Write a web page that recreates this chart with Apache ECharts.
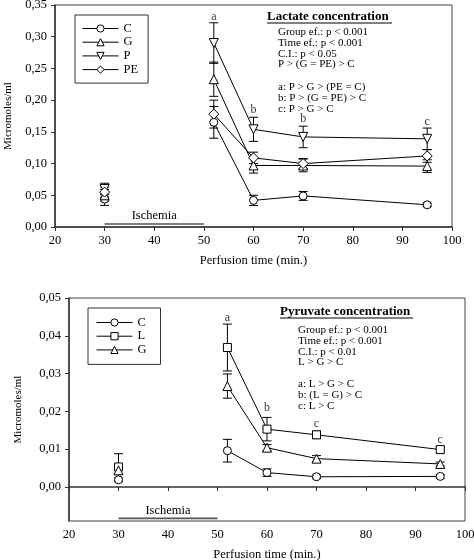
<!DOCTYPE html>
<html>
<head>
<meta charset="utf-8">
<script src="https://cdn.jsdelivr.net/npm/echarts@6/dist/echarts.min.js"></script>
<style>
  html, body { margin: 0; background: #fff; }
  #chart { width: 474px; height: 560px; }
</style>
</head>
<body>
<div id="chart"></div>
<script>
// sampling times (min) - first point is the pre-ischemia value, not joined by a line
const times = [30, 52, 60, 70, 95];

// lactate (micromoles/ml), mean and error
const lacC = [0.044, 0.165, 0.042, 0.049, 0.035];
const lacCErr = [0.010, 0.025, 0.008, 0.007, 0.003];
const lacG = [0.050, 0.233, 0.097, 0.097, 0.096];
const lacGErr = [0.009, 0.027, 0.012, 0.010, 0.010];
const lacP = [0.060, 0.290, 0.154, 0.142, 0.139];
const lacPErr = [0.009, 0.032, 0.019, 0.017, 0.017];
const lacPE = [0.055, 0.178, 0.109, 0.100, 0.112];
const lacPEErr = [0.008, 0.022, 0.009, 0.008, 0.010];

// pyruvate (micromoles/ml)
const pyrC = [0.0019, 0.0096, 0.0038, 0.0027, 0.0028];
const pyrCErr = [0.0005, 0.0030, 0.0010, 0.0005, 0.0005];
const pyrL = [0.0053, 0.0369, 0.0153, 0.0138, 0.0099];
const pyrLErr = [0.0035, 0.0062, 0.0031, 0.0010, 0.0008];
const pyrG = [0.0044, 0.0267, 0.0104, 0.0075, 0.0061];
const pyrGErr = [0.0010, 0.0032, 0.0008, 0.0008, 0.0005];

// significance letters [time, y, letter]
const lacNotes = [[52, 0.331, 'a'], [60, 0.184, 'b'], [70, 0.171, 'b'], [95, 0.166, 'c']];
const pyrNotes = [[52, 0.0447, 'a'], [60, 0.0209, 'b'], [70, 0.0166, 'c'], [95, 0.0124, 'c']];

const ischemia = [30, 50];

const lacTitle = 'Lactate concentration';
const lacStats = ['Group ef.: p < 0.001', 'Time ef.: p < 0.001', 'C.I.: p < 0.05', 'P > (G = PE) > C'];
const lacPost = ['a: P > G > (PE = C)', 'b: P > (G = PE) > C', 'c: P > G > C'];
const pyrTitle = 'Pyruvate concentration';
const pyrStats = ['Group ef.: p < 0.001', 'Time ef.: p < 0.001', 'C.I.: p < 0.01', 'L > G > C'];
const pyrPost = ['a: L > G > C', 'b: (L = G) > C', 'c: L > C'];

const FONT = '"Liberation Serif", "DejaVu Serif", serif';
const chart = echarts.init(document.getElementById('chart'));

function lineSeries(name, vals, symbol, size, rot, ax) {
  const data = times.map((t, i) => [t, vals[i]]);
  data.splice(1, 0, '-'); // gap between baseline and reperfusion
  return {
    type: 'line', name: name, data: data, xAxisIndex: ax, yAxisIndex: ax,
    symbol: symbol, symbolSize: size, symbolRotate: rot, showAllSymbol: true,
    connectNulls: false, animation: false, z: 3,
    lineStyle: { color: '#000', width: 1 },
    itemStyle: { color: '#fff', borderColor: '#000', borderWidth: 1 }
  };
}

function errSeries(vals, errs, ax) {
  return {
    type: 'custom', xAxisIndex: ax, yAxisIndex: ax, z: 2, silent: true, animation: false,
    encode: { x: 0, y: [1, 2] },
    data: times.map((t, i) => [t, vals[i] - errs[i], vals[i] + errs[i]]),
    renderItem: function (params, api) {
      const top = api.coord([api.value(0), api.value(2)]);
      const bot = api.coord([api.value(0), api.value(1)]);
      const w = 4.5;
      const st = { stroke: '#000', lineWidth: 1 };
      return {
        type: 'group', children: [
          { type: 'line', shape: { x1: top[0], y1: top[1], x2: bot[0], y2: bot[1] }, style: st },
          { type: 'line', shape: { x1: top[0] - w, y1: top[1], x2: top[0] + w, y2: top[1] }, style: st },
          { type: 'line', shape: { x1: bot[0] - w, y1: bot[1], x2: bot[0] + w, y2: bot[1] }, style: st }
        ]
      };
    }
  };
}

function noteSeries(notes, ax) {
  return {
    type: 'scatter', xAxisIndex: ax, yAxisIndex: ax, silent: true, animation: false,
    symbolSize: 1, itemStyle: { color: 'rgba(0,0,0,0)' },
    data: notes,
    label: { show: true, position: 'inside', formatter: p => p.value[2], color: '#000', fontFamily: FONT, fontSize: 12 }
  };
}

function ischemiaSeries(level, ax) {
  return {
    type: 'custom', xAxisIndex: ax, yAxisIndex: ax, silent: true, animation: false,
    encode: { x: [0, 1], y: 2 },
    data: [[ischemia[0], ischemia[1], level]],
    renderItem: function (params, api) {
      const a = api.coord([api.value(0), api.value(2)]);
      const b = api.coord([api.value(1), api.value(2)]);
      return {
        type: 'group', children: [
          { type: 'line', shape: { x1: a[0], y1: a[1], x2: b[0], y2: b[1] }, style: { stroke: '#555', lineWidth: 1.6 } },
          { type: 'text', style: { text: 'Ischemia', x: (a[0] + b[0]) / 2, y: a[1] - 8, align: 'center', verticalAlign: 'middle', font: '12.5px ' + FONT, fill: '#000' } }
        ]
      };
    }
  };
}

function xAxis(ax) {
  return {
    type: 'value', gridIndex: ax, min: 20, max: 100, interval: 10,
    name: 'Perfusion time (min.)', nameLocation: 'middle', nameGap: 27,
    nameTextStyle: { fontFamily: FONT, fontSize: 12.5, color: '#000' },
    axisLine: { lineStyle: { color: '#333', width: 1.5 } },
    axisTick: { length: 4, lineStyle: { color: '#333' } },
    axisLabel: { fontFamily: FONT, fontSize: 12.5, color: '#000', margin: 7 },
    splitLine: { show: false }
  };
}

const fmt = v => v.toFixed(2).replace('.', ',');
const pyrTicks = [0, 0.01, 0.02, 0.03, 0.04, 0.05];

function textBlock(x, y, lines) {
  return { type: 'text', left: x, top: y, style: { text: lines.join('\n'), font: '11px ' + FONT, fill: '#000', lineHeight: 10.6 } };
}
function titleBlock(x, y, w, txt) {
  return [
    { type: 'text', left: x, top: y, style: { text: txt, font: 'bold 13px ' + FONT, fill: '#000' } },
    { type: 'line', shape: { x1: x, y1: y + 13, x2: x + w, y2: y + 13 }, style: { stroke: '#000', lineWidth: 1 } }
  ];
}

function legend(names, left, top, pad) {
  return {
    data: names, orient: 'vertical', left: left, top: top,
    itemWidth: 36, itemHeight: 9, itemGap: 0.7, padding: pad,
    borderColor: '#333', borderWidth: 1, selectedMode: false,
    itemStyle: { color: '#fff', borderColor: '#000', borderWidth: 1 },
    lineStyle: { color: '#000', width: 1 },
    textStyle: { fontFamily: FONT, fontSize: 12.5, color: '#000', lineHeight: 12 }
  };
}

const option = {
  backgroundColor: '#fff',
  animation: false,
  grid: [
    { left: 55, top: 5, width: 397, height: 222, show: true, borderColor: '#444', borderWidth: 1, containLabel: false, outerBoundsMode: 'none' },
    { left: 69, top: 298, width: 396, height: 223, show: true, borderColor: '#444', borderWidth: 1, containLabel: false, outerBoundsMode: 'none' }
  ],
  xAxis: [xAxis(0), xAxis(1)],
  yAxis: [
    {
      type: 'value', gridIndex: 0, min: 0, max: 0.35, interval: 0.05,
      name: 'Micromoles/ml', nameLocation: 'middle', nameGap: 41,
      nameTextStyle: { fontFamily: FONT, fontSize: 11, color: '#000' },
      axisLine: { show: true, lineStyle: { color: '#333', width: 1.5 } },
      axisTick: { show: true, length: 4, lineStyle: { color: '#333' } },
      axisLabel: { fontFamily: FONT, fontSize: 12.5, color: '#000', margin: 8, formatter: fmt },
      splitLine: { show: false }
    },
    {
      type: 'value', gridIndex: 1, min: -0.009, max: 0.05,
      name: 'Micromoles/ml', nameLocation: 'middle', nameGap: 45,
      nameTextStyle: { fontFamily: FONT, fontSize: 11, color: '#000' },
      axisLine: { show: true, lineStyle: { color: '#333', width: 1.5 } },
      axisTick: { show: true, length: 4, lineStyle: { color: '#333' }, customValues: pyrTicks },
      axisLabel: { fontFamily: FONT, fontSize: 12.5, color: '#000', margin: 8, formatter: fmt, customValues: pyrTicks },
      splitLine: { show: false }
    }
  ],
  legend: [
    legend(['C', 'G', 'P', 'PE'], 75, 15, [7, 10, 7, 7]),
    legend(['C', 'L', 'G'], 88, 308, [8, 14, 8, 8])
  ],
  graphic: [].concat(
    titleBlock(267, 10, 125, lacTitle),
    [textBlock(278, 27, lacStats), textBlock(278, 82, lacPost)],
    titleBlock(280, 305, 133, pyrTitle),
    [textBlock(298, 325, pyrStats), textBlock(298, 379, pyrPost)]
  ),
  series: [
    errSeries(lacC, lacCErr, 0), errSeries(lacG, lacGErr, 0), errSeries(lacP, lacPErr, 0), errSeries(lacPE, lacPEErr, 0),
    lineSeries('C', lacC, 'circle', 8, 0, 0),
    lineSeries('G', lacG, 'triangle', 9, 0, 0),
    lineSeries('P', lacP, 'triangle', 9, 180, 0),
    lineSeries('PE', lacPE, 'diamond', 10, 0, 0),
    noteSeries(lacNotes, 0),
    ischemiaSeries(0.0047, 0),
    errSeries(pyrC, pyrCErr, 1), errSeries(pyrL, pyrLErr, 1), errSeries(pyrG, pyrGErr, 1),
    lineSeries('C', pyrC, 'circle', 8, 0, 1),
    lineSeries('L', pyrL, 'rect', 8, 0, 1),
    lineSeries('G', pyrG, 'triangle', 9, 0, 1),
    noteSeries(pyrNotes, 1),
    ischemiaSeries(-0.0083, 1)
  ]
};

chart.setOption(option);
</script>
</body>
</html>
